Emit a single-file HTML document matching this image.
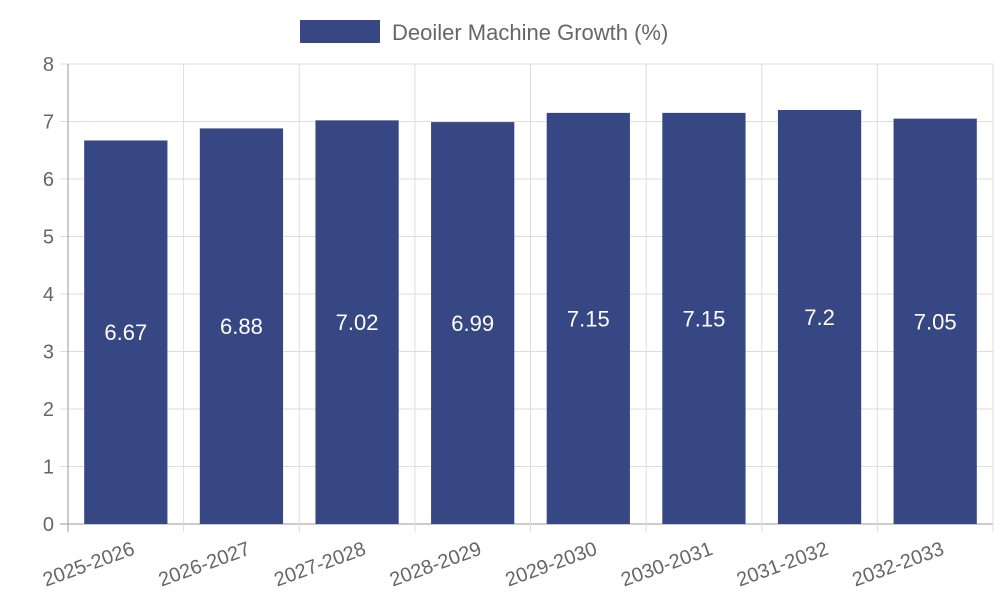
<!DOCTYPE html>
<html><head><meta charset="utf-8"><style>
html,body{margin:0;padding:0;background:#fff;}
svg{display:block;font-family:"Liberation Sans",sans-serif;}
</style></head><body>
<svg id="chart" width="1000" height="600" viewBox="0 0 1000 600" xmlns="http://www.w3.org/2000/svg">
<g>
<rect x="300" y="20" width="80" height="23" fill="#374784"/>
<text x="392" y="40" font-size="22" fill="#666">Deoiler Machine Growth (%)</text>
</g>
<g id="grid"></g><g id="bars"></g><g id="axes"></g>
</svg>
<script>
const categories=["2025-2026","2026-2027","2027-2028","2028-2029","2029-2030","2030-2031","2031-2032","2032-2033"];
const values=[6.67,6.88,7.02,6.99,7.15,7.15,7.2,7.05];
const yTicks=[0,1,2,3,4,5,6,7,8];
const NS="http://www.w3.org/2000/svg";
const L=68,R=993,T=64,B=524,yMax=8;
const bw=(R-L)/categories.length;
const y=v=>B-(v/yMax)*(B-T);
const x=i=>L+i*bw;
function mk(tag,attrs,parent,txt){const e=document.createElementNS(NS,tag);for(const k in attrs)e.setAttribute(k,attrs[k]);if(txt!==undefined)e.textContent=txt;document.getElementById(parent).appendChild(e);return e;}
yTicks.forEach(t=>{
 const g=mk("line",{x1:L-8,x2:R,y1:y(t),y2:y(t),stroke:t===0?"#999":"#ddd","stroke-width":1},"grid");
 
 
 const lb=mk("text",{x:L-14,y:y(t)+7,"text-anchor":"end","font-size":20,fill:"#666"},"axes",String(t));
 
 
});
for(let i=0;i<=categories.length;i++){
 const g=mk("line",{x1:x(i),x2:x(i),y1:T,y2:B+8,stroke:i===0?"#999":"#ddd","stroke-width":1},"grid");
 
 
}
categories.forEach((c,i)=>{
 const cx=x(i)+bw/2, w=bw*0.72;
 const r=mk("rect",{x:cx-w/2,y:y(values[i]),width:w,height:B-y(values[i]),fill:"#374784"},"bars");
 
 
 const v=mk("text",{x:cx,y:(y(values[i])+B)/2+8,"text-anchor":"middle","font-size":22,fill:"#fff"},"bars",String(values[i]));
 
 
 const xl=mk("text",{x:0,y:0,"text-anchor":"end","font-size":20,fill:"#666",transform:`translate(${cx+10},${B+30}) rotate(-20)`},"axes",c);
 
 
});
</script>
</body></html>
